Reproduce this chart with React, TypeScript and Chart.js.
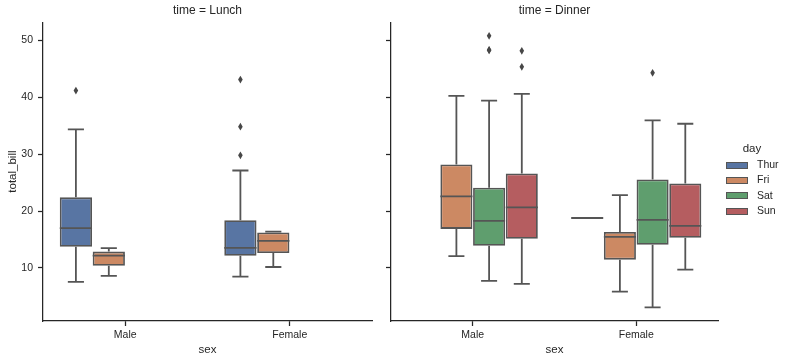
import React, { useEffect, useRef } from 'react';
import { Chart, registerables } from 'chart.js';
Chart.register(...registerables);

// ---------- data ----------
const sexes = ['Male', 'Female'];
const days = ['Thur', 'Fri', 'Sat', 'Sun'];
const dayColors = ['#5875a3', '#cc8963', '#5f9e6e', '#b55d60'];
const yTicks = [10, 20, 30, 40, 50];
const yMin = 0.68;
const yMax = 53.2;

// each entry: [lowWhisker, q1, median, q3, highWhisker] for [Male, Female]
const lunchThur = [[7.55, 13.72, 17.0, 22.41, 34.35], [8.48, 12.15, 13.55, 18.39, 27.13]];
const lunchFri = [[8.6, 10.38, 12.16, 12.88, 13.5], [10.17, 12.62, 14.77, 16.24, 16.4]];
const lunchSat = [null, null];
const lunchSun = [null, null];
const lunchThurOutliers = [[41.19], [43.11, 34.83, 29.8]];
const lunchFriOutliers = [[], []];
const lunchSatOutliers = [[], []];
const lunchSunOutliers = [[], []];

const dinnerThur = [null, [18.78, 18.78, 18.78, 18.78, 18.78]];
const dinnerFri = [[12.1, 16.87, 22.59, 28.18, 40.24], [5.86, 11.46, 15.45, 16.32, 22.8]];
const dinnerSat = [[7.73, 13.9, 18.27, 24.1, 39.42], [3.07, 14.07, 18.44, 25.56, 35.93]];
const dinnerSun = [[7.2, 15.13, 20.66, 26.6, 40.6], [9.7, 15.3, 17.4, 24.86, 35.35]];
const dinnerThurOutliers = [[], []];
const dinnerFriOutliers = [[], []];
const dinnerSatOutliers = [[50.81, 48.27, 48.33], [44.3]];
const dinnerSunOutliers = [[48.17, 45.35], []];

// ---------- styles ----------
const FONT = "'Liberation Sans', Arial, sans-serif";
const TEXT = '#262626';
const GRAY = '#555555';
const AXIS = '#262626';

type Stat = number[] | null;

const boxPlugin = (stats: Stat[][], outliers: number[][][]) => ({
  id: 'boxExtras',
  afterDatasetsDraw(chart: any) {
    const ctx = chart.ctx;
    const xs = chart.scales.x;
    const ys = chart.scales.y;
    const cat = (xs.right - xs.left) / sexes.length;
    const half = 0.5 * 0.98 * 0.2 * cat;
    ctx.save();
    ctx.strokeStyle = GRAY;
    ctx.fillStyle = '#474747';
    ctx.lineWidth = 1.8;
    ctx.lineCap = 'butt';
    stats.forEach((perSex, i) => {
      perSex.forEach((s, j) => {
        const cx = xs.getPixelForValue(j) + (i - 1.5) * 0.2 * cat;
        if (s) {
          const [lo, q1, med, q3, hi] = s;
          const pLo = ys.getPixelForValue(lo);
          const pQ1 = ys.getPixelForValue(q1);
          const pMed = ys.getPixelForValue(med);
          const pQ3 = ys.getPixelForValue(q3);
          const pHi = ys.getPixelForValue(hi);
          ctx.beginPath();
          if (q3 > q1) {
            ctx.moveTo(cx, pQ3); ctx.lineTo(cx, pHi);
            ctx.moveTo(cx, pQ1); ctx.lineTo(cx, pLo);
            ctx.moveTo(cx - half / 2, pHi); ctx.lineTo(cx + half / 2, pHi);
            ctx.moveTo(cx - half / 2, pLo); ctx.lineTo(cx + half / 2, pLo);
          }
          ctx.moveTo(cx - half, pMed); ctx.lineTo(cx + half, pMed);
          ctx.stroke();
        }
        (outliers[i][j] || []).forEach((v) => {
          const py = ys.getPixelForValue(v);
          ctx.beginPath();
          ctx.moveTo(cx, py - 3.9);
          ctx.lineTo(cx + 2.3, py);
          ctx.lineTo(cx, py + 3.9);
          ctx.lineTo(cx - 2.3, py);
          ctx.closePath();
          ctx.fill();
        });
      });
    });
    ctx.restore();
  },
});

interface PanelProps {
  left: number;
  width: number;
  title: string;
  stats: Stat[][];
  outliers: number[][][];
  showY: boolean;
  yWidth: number;
  padRight: number;
}

function Panel({ left, width, title, stats, outliers, showY, yWidth, padRight }: PanelProps) {
  const ref = useRef<HTMLCanvasElement>(null);
  useEffect(() => {
    if (!ref.current) return;
    const datasets = days.map((d, i) => ({
      label: d,
      data: sexes.map((_, j) => {
        const s = stats[i][j];
        return s && s[3] > s[1] ? [s[1], s[3]] : null;
      }),
      backgroundColor: dayColors[i],
      borderColor: GRAY,
      borderWidth: 1.8,
      borderSkipped: false,
      categoryPercentage: 0.8,
      barPercentage: 0.98,
    }));
    const chart = new Chart(ref.current, {
      type: 'bar',
      data: { labels: sexes, datasets: datasets as any },
      options: {
        animation: false,
        responsive: false,
        devicePixelRatio: 1,
        layout: { padding: { left: 0, right: padRight, top: 0, bottom: 0 } },
        plugins: {
          legend: { display: false },
          tooltip: { enabled: false },
          title: {
            display: true,
            text: title,
            color: TEXT,
            fullSize: false,
            font: { family: FONT, size: 12, weight: 'normal' },
            padding: { top: 3.6, bottom: 4.2 },
          },
        },
        scales: {
          x: {
            type: 'category',
            offset: true,
            grid: {
              offset: false,
              drawOnChartArea: false,
              drawTicks: true,
              tickLength: 5,
              color: AXIS,
              tickColor: AXIS,
              tickWidth: 1.25,
            },
            border: { display: true, color: AXIS, width: 1.25 },
            ticks: { color: TEXT, font: { family: FONT, size: 10.5 }, padding: 3 },
            title: {
              display: true,
              text: 'sex',
              color: TEXT,
              font: { family: FONT, size: 11.5 },
              padding: { top: 0, bottom: 5 },
            },
            afterFit: (s: any) => { s.height = 41; },
          },
          y: {
            type: 'linear',
            min: yMin,
            max: yMax,
            afterBuildTicks: (s: any) => { s.ticks = yTicks.map((v) => ({ value: v })); },
            grid: {
              drawOnChartArea: false,
              drawTicks: true,
              tickLength: 5,
              color: AXIS,
              tickColor: AXIS,
              tickWidth: 1.25,
            },
            border: { display: true, color: AXIS, width: 1.25 },
            ticks: {
              display: showY,
              color: TEXT,
              font: { family: FONT, size: 10.5 },
              padding: 5,
            },
            title: {
              display: showY,
              text: 'total_bill',
              color: TEXT,
              font: { family: FONT, size: 11.5 },
              padding: { top: 5.5, bottom: 0 },
            },
            afterFit: (s: any) => { s.width = yWidth; },
          },
        },
      },
      plugins: [boxPlugin(stats, outliers)],
    });
    return () => chart.destroy();
  }, []);
  return (
    <canvas
      ref={ref}
      width={width}
      height={362}
      style={{ position: 'absolute', left, top: 0, width, height: 362 }}
    />
  );
}

function Legend() {
  const rowsY = [165, 180.3, 195.7, 211];
  return (
    <>
      <div
        style={{
          position: 'absolute', left: 722, top: 142, width: 60, height: 14, lineHeight: '14px',
          textAlign: 'center', font: `11.5px ${FONT}`, color: TEXT,
        }}
      >
        day
      </div>
      {days.map((d, i) => (
        <React.Fragment key={d}>
          <div
            style={{
              position: 'absolute', left: 726, top: rowsY[i] - 3.5, width: 22, height: 7,
              boxSizing: 'border-box', background: dayColors[i], border: `1px solid ${GRAY}`,
            }}
          />
          <div
            style={{
              position: 'absolute', left: 757, top: rowsY[i] - 7, height: 14, lineHeight: '14px',
              font: `10.5px ${FONT}`, color: TEXT, whiteSpace: 'nowrap',
            }}
          >
            {d}
          </div>
        </React.Fragment>
      ))}
    </>
  );
}

export default function App() {
  return (
    <div style={{ position: 'absolute', left: 0, top: 0, width: 789, height: 362, background: '#fff', overflow: 'hidden' }}>
      <Panel
        left={0}
        width={380}
        title="time = Lunch"
        stats={[lunchThur, lunchFri, lunchSat, lunchSun]}
        outliers={[lunchThurOutliers, lunchFriOutliers, lunchSatOutliers, lunchSunOutliers]}
        showY={true}
        yWidth={43}
        padRight={8}
      />
      <Panel
        left={380}
        width={409}
        title="time = Dinner"
        stats={[dinnerThur, dinnerFri, dinnerSat, dinnerSun]}
        outliers={[dinnerThurOutliers, dinnerFriOutliers, dinnerSatOutliers, dinnerSunOutliers]}
        showY={false}
        yWidth={11}
        padRight={71}
      />
      <Legend />
    </div>
  );
}
